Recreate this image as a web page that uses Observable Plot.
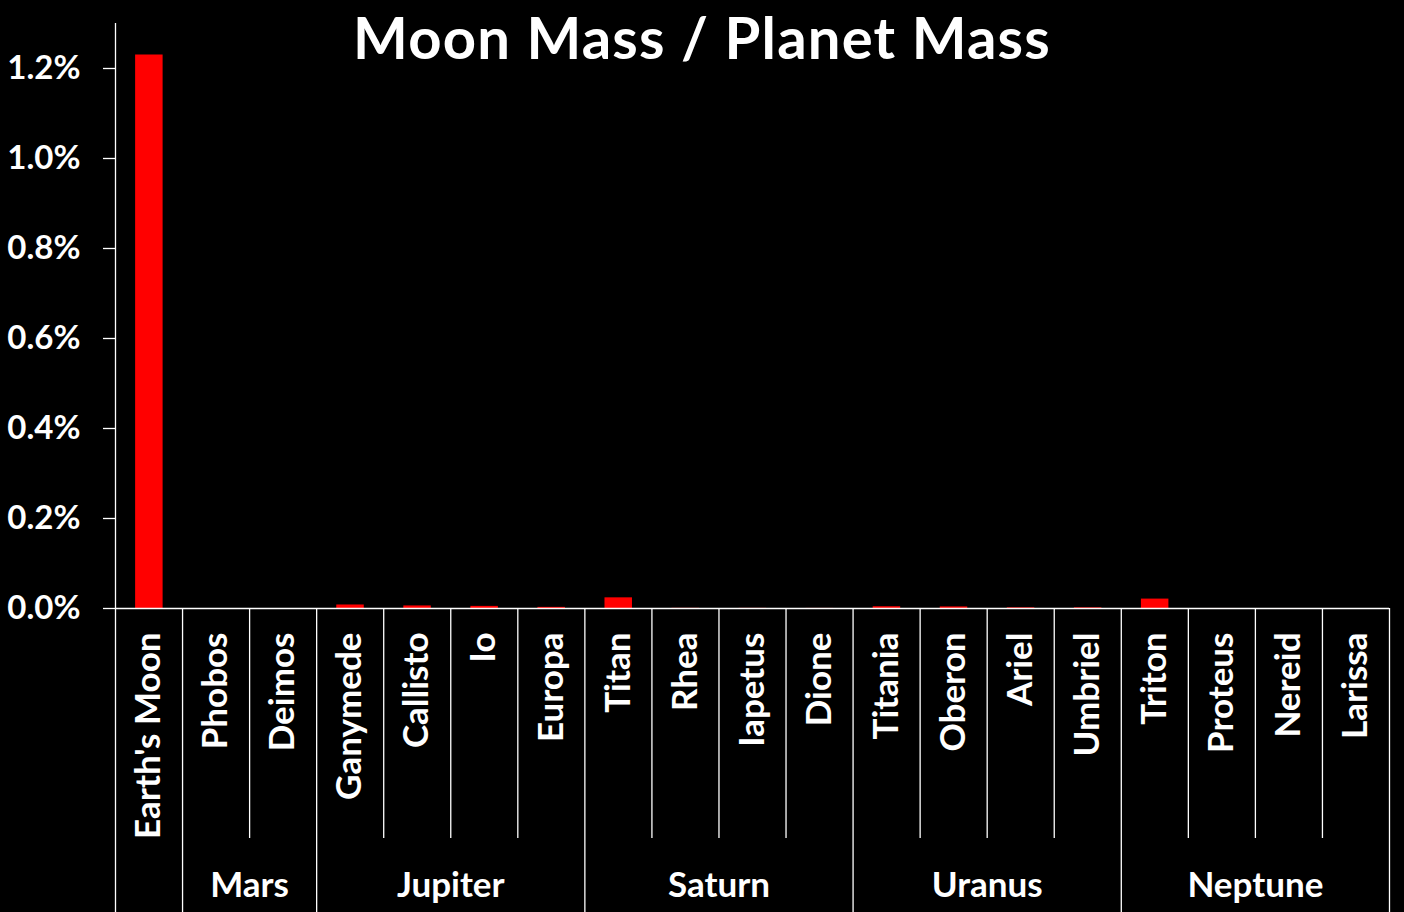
<!DOCTYPE html>
<html>
<head>
<meta charset="utf-8">
<script src="https://cdn.jsdelivr.net/npm/d3@7"></script>
<script src="https://cdn.jsdelivr.net/npm/@observablehq/plot@0.6"></script>
<style>
  html, body { margin: 0; padding: 0; background: #000; }
  #wrap { position: relative; width: 1404px; height: 912px; background: #000; overflow: hidden; }
  #title { position: absolute; left: 0; top: 2px; width: 1404px; text-align: center; color: #fff;
           font-family: Lato, "Open Sans", sans-serif; font-weight: 700; font-size: 58px; line-height: 70px;
           letter-spacing: 1.2px; z-index: 2; }
  svg { display: block; }
</style>
</head>
<body>
<div id="wrap">
  <div id="title">Moon Mass / Planet Mass</div>
  <div id="chart"></div>
</div>
<script>
// Moons (categories)
const moons = ["Earth's Moon", "Phobos", "Deimos", "Ganymede", "Callisto", "Io", "Europa",
  "Titan", "Rhea", "Iapetus", "Dione", "Titania", "Oberon", "Ariel", "Umbriel",
  "Triton", "Proteus", "Nereid", "Larissa"];
// Parent planet of each moon
const planets = ["Earth", "Mars", "Mars", "Jupiter", "Jupiter", "Jupiter", "Jupiter",
  "Saturn", "Saturn", "Saturn", "Saturn", "Uranus", "Uranus", "Uranus", "Uranus",
  "Neptune", "Neptune", "Neptune", "Neptune"];
// Moon mass / planet mass, in percent
const ratios = [1.23, 0.0000017, 0.00000023, 0.0078, 0.0057, 0.0047, 0.0025,
  0.0237, 0.0004, 0.0003, 0.0002, 0.0039, 0.0035, 0.0015, 0.0015,
  0.0209, 0.00004, 0.00003, 0.000004];
// Group label shown for each planet (Earth has none)
const groupNames = {Earth: "", Mars: "Mars", Jupiter: "Jupiter", Saturn: "Saturn", Uranus: "Uranus", Neptune: "Neptune"};
// Y axis ticks (percent)
const yTicks = [0, 0.2, 0.4, 0.6, 0.8, 1.0, 1.2];

const data = moons.map((m, i) => ({i, moon: m, planet: planets[i], value: ratios[i]}));

// category boundaries
const n = moons.length;
const groupBounds = [];
const innerBounds = [];
for (let i = 0; i <= n; i++) {
  if (i === 0 || i === n || planets[i] !== planets[i - 1]) groupBounds.push(i);
  else innerBounds.push(i);
}
const groups = [];
for (let g = 0; g < groupBounds.length - 1; g++) {
  const a = groupBounds[g], b = groupBounds[g + 1];
  groups.push({center: (a + b) / 2, name: groupNames[planets[a]]});
}
const groupLabelMap = new Map(groups.map(g => [g.center, g.name]));

const FONT = "Lato, 'Open Sans', sans-serif";

const chart = Plot.plot({
  width: 1404,
  height: 912,
  marginLeft: 115,
  marginRight: 15,
  marginTop: 23,
  marginBottom: 304,
  style: {background: "#000", color: "#fff", fontFamily: FONT, overflow: "visible"},
  x: {type: "linear", domain: [0, n], axis: null},
  y: {domain: [0, 1.3], axis: null},
  marks: [
    Plot.rectY(data, {x1: d => d.i + 0.3, x2: d => d.i + 0.71, y: "value", fill: "#ff0000"}),
    Plot.ruleX([0], {stroke: "#fff", strokeWidth: 1.3}),
    Plot.ruleY([0], {stroke: "#fff", strokeWidth: 1.3}),
    Plot.axisY({ticks: yTicks, tickFormat: d => d.toFixed(1) + "%", tickSize: 12, tickPadding: 23,
      fontSize: 33, fontWeight: "bold", stroke: "#fff", fill: "#fff", strokeWidth: 1.3, label: null}),
    Plot.axisX({ticks: innerBounds, tickSize: 230, tickFormat: () => "", stroke: "#fff", strokeWidth: 1.3, label: null}),
    Plot.axisX({ticks: groupBounds, tickSize: 304, tickFormat: () => "", stroke: "#fff", strokeWidth: 1.3, label: null}),
    Plot.axisX({ticks: data.map(d => d.i + 0.5), tickSize: 0, tickPadding: 24, tickRotate: -90,
      tickFormat: d => moons[Math.floor(d)], fontSize: 35, fontWeight: "bold", fill: "#fff", label: null}),
    Plot.axisX({ticks: groups.map(g => g.center), tickSize: 0, tickPadding: 264,
      tickFormat: d => groupLabelMap.get(d), fontSize: 35, fontWeight: "bold", fill: "#fff", label: null})
  ]
});
document.getElementById("chart").appendChild(chart);
</script>
</body>
</html>
